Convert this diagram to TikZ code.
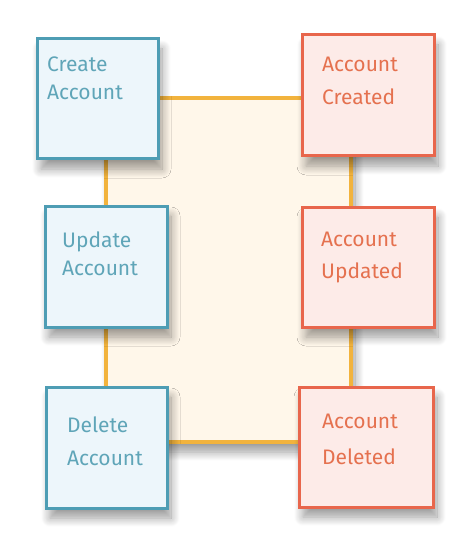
\documentclass[tikz,border=0pt]{standalone}
\usepackage{fontspec}
\setmainfont{Fira Sans}
\usetikzlibrary{shadows.blur}
\definecolor{bstroke}{HTML}{4E9DB4}
\definecolor{bfill}{HTML}{EDF6FB}
\definecolor{btext}{HTML}{5FA5B8}
\definecolor{rstroke}{HTML}{E8664C}
\definecolor{rfill}{HTML}{FDEBE8}
\definecolor{rtext}{HTML}{E5714F}
\definecolor{ostroke}{HTML}{F2B33D}
\definecolor{ofill}{HTML}{FFF7EA}
\tikzset{
  sh/.style={blur shadow={shadow xshift=4pt, shadow yshift=-10pt, shadow blur steps=12, shadow blur radius=9pt, shadow opacity=40}},
  cmd/.style={draw=bstroke, fill=bfill, line width=3pt, sh, inner sep=0pt},
  evt/.style={draw=rstroke, fill=rfill, line width=3pt, sh, inner sep=0pt},
  agg/.style={draw=ostroke, fill=ofill, line width=3.5pt, sh, inner sep=0pt},
  btxt/.style={text=btext, font=\fontsize{21}{28}\selectfont, align=left, anchor=north west, inner sep=0pt},
  rtxt/.style={text=rtext, font=\fontsize{21}{33}\selectfont, align=left, anchor=north west, inner sep=0pt},
}
\begin{document}
\begin{tikzpicture}[x=1pt,y=-1pt]
\useasboundingbox (0,0) rectangle (474,553);
\node[agg, minimum width=245pt, minimum height=344pt] (agg) at (228.5,270) {};
\node[cmd, minimum width=121pt, minimum height=120pt] (ca) at (97.5,99) {};
\node[cmd, minimum width=122pt, minimum height=121pt] (ua) at (106,266.5) {};
\node[cmd, minimum width=121pt, minimum height=121pt] (da) at (106.5,447.5) {};
\node[evt, minimum width=132pt, minimum height=121pt] (ac) at (368,95.5) {};
\node[evt, minimum width=132pt, minimum height=120pt] (au) at (368,267) {};
\node[evt, minimum width=134pt, minimum height=120pt] (ad) at (366,447) {};
\node[btxt] (tca) at (47,57) {Create\\Account};
\node[btxt] (tua) at (62,232) {Update\\Account};
\node[btxt, font=\fontsize{21}{33}\selectfont] (tda) at (67,417) {Delete\\Account};
\node[rtxt] (tac) at (322,57) {Account\\Created};
\node[rtxt, font=\fontsize{21}{32}\selectfont] (tau) at (321,232) {Account\\Updated};
\node[rtxt, font=\fontsize{21}{36}\selectfont] (tad) at (322,414) {Account\\Deleted};
\end{tikzpicture}
\end{document}
